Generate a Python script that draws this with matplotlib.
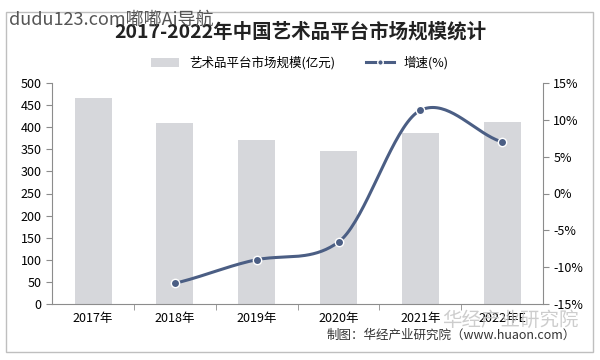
import matplotlib
matplotlib.use('Agg')
import matplotlib.pyplot as plt
import numpy as np
from matplotlib.patches import Rectangle

plt.rcParams['font.family'] = ['Noto Sans CJK SC', 'DejaVu Sans']
plt.rcParams['axes.unicode_minus'] = False

# 数据
years = ['2017年', '2018年', '2019年', '2020年', '2021年', '2022年E']
scale = [466, 409, 371, 347, 388, 411]          # 市场规模（亿元）
growth_years = [1, 2, 3, 4, 5]                  # 增速从2018年开始
growth = [-12.2, -9.0, -6.6, 11.3, 7.0]         # 增速（%）

bar_color = '#D6D7DB'
line_color = '#4B5E84'
axis_color = '#8C8C8C'


def smooth(xs, ys, c=0.4, n=40):
    # 平滑曲线（仅用于绘制线条，Hermite样条）
    xs = np.asarray(xs, float)
    ys = np.asarray(ys, float)
    m = np.zeros_like(ys)
    m[1:-1] = c * (ys[2:] - ys[:-2])
    m[0] = 2 * c * (ys[1] - ys[0])
    m[-1] = 2 * c * (ys[-1] - ys[-2])
    outx, outy = [], []
    for i in range(len(xs) - 1):
        t = np.linspace(0, 1, n)
        h00 = 2 * t ** 3 - 3 * t ** 2 + 1
        h10 = t ** 3 - 2 * t ** 2 + t
        h01 = -2 * t ** 3 + 3 * t ** 2
        h11 = t ** 3 - t ** 2
        outx.extend(xs[i] + t * (xs[i + 1] - xs[i]))
        outy.extend(h00 * ys[i] + h10 * m[i] + h01 * ys[i + 1] + h11 * m[i + 1])
    return np.array(outx), np.array(outy)


fig = plt.figure(figsize=(6, 3.6), dpi=100)
fig.patches.append(Rectangle((0.01, 0.022), 0.978, 0.945, transform=fig.transFigure,
                             fill=False, edgecolor='#BFBFBF', linewidth=1))

ax = fig.add_axes([0.087, 0.156, 0.818, 0.613])
x = np.arange(len(years))
bars = ax.bar(x, scale, width=0.45, color=bar_color, label='艺术品平台市场规模(亿元)', zorder=1)
ax.set_xlim(-0.5, len(years) - 0.5)
ax.set_ylim(0, 500)
ax.set_yticks(np.arange(0, 501, 50))
ax.set_xticks(x)
ax.set_xticklabels(years)
ax.set_xticks(np.arange(0.5, len(years) - 0.5, 1), minor=True)
ax.tick_params(axis='x', which='major', length=0, labelsize=9, pad=6)
ax.tick_params(axis='x', which='minor', length=4, color=axis_color)
ax.tick_params(axis='y', labelsize=9, length=4, color=axis_color)
for s in ['top', 'right']:
    ax.spines[s].set_visible(False)
for s in ['left', 'bottom']:
    ax.spines[s].set_color(axis_color)

ax2 = ax.twinx()
sx, sy = smooth(growth_years, growth)
line, = ax2.plot(sx, sy, color=line_color, linewidth=2.2, zorder=3)
ax2.plot(growth_years, growth, 'o', color=line_color, markersize=6,
         markeredgecolor='white', markeredgewidth=1, zorder=4)
ax2.set_ylim(-15, 15)
ax2.set_yticks(np.arange(-15, 16, 5))
ax2.set_yticklabels(['%d%%' % v for v in np.arange(-15, 16, 5)])
ax2.tick_params(axis='y', labelsize=9, length=4, color=axis_color)
for s in ['top', 'left', 'bottom']:
    ax2.spines[s].set_visible(False)
ax2.spines['right'].set_color(axis_color)
ax2.set_xlim(-0.5, len(years) - 0.5)

legend_line = plt.Line2D([], [], color=line_color, linewidth=2.2, marker='o',
                         markersize=4, markeredgecolor='white')
fig.legend([bars, legend_line], ['艺术品平台市场规模(亿元)', '增速(%)'],
           loc='center', bbox_to_anchor=(0.5, 0.825), ncol=2, frameon=False,
           fontsize=9, handlelength=2.2, columnspacing=2.5)

fig.text(0.5, 0.912, '2017-2022年中国艺术品平台市场规模统计', ha='center', va='center',
         fontsize=14, fontweight='bold', color='#222222')
fig.text(0.015, 0.945, 'dudu123.com嘟嘟Ai导航', ha='left', va='center',
         fontsize=13, color='#555555')
fig.text(0.965, 0.11, '华经产业研究院', ha='right', va='center',
         fontsize=14, color='#C8C8C8', alpha=0.9)
fig.text(0.96, 0.068, '制图：华经产业研究院（www.huaon.com）', ha='right', va='center',
         fontsize=9, color='#333333')

fig.savefig('out.png', dpi=100)
